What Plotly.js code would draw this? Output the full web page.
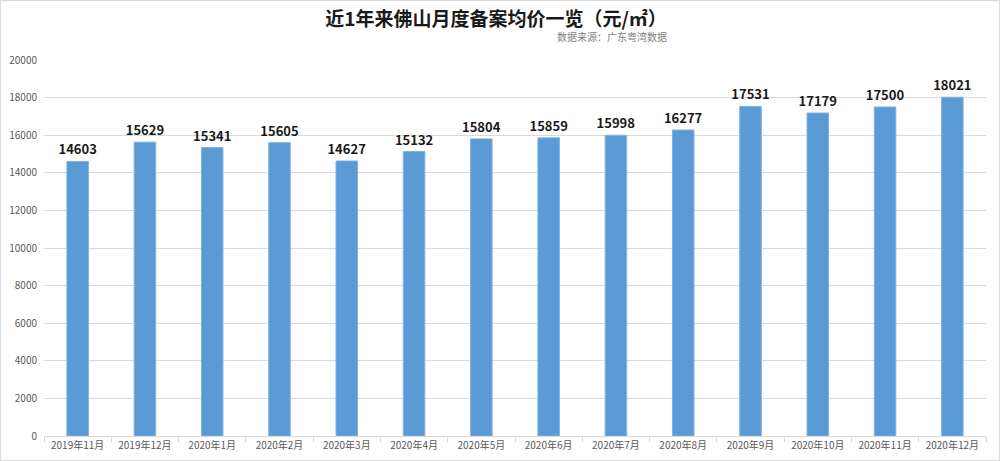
<!DOCTYPE html>
<html><head><meta charset="utf-8">
<script src="https://cdn.plot.ly/plotly-3.0.1.min.js"></script>
<style>
html,body{margin:0;padding:0;background:#fff;}
#wrap{width:1000px;height:461px;box-sizing:border-box;border:1px solid #d9d9d9;}
#chart{width:998px;height:459px;}
</style></head>
<body><div id="wrap"><div id="chart"></div></div>
<script>
const months = ["2019年11月","2019年12月","2020年1月","2020年2月","2020年3月","2020年4月","2020年5月","2020年6月","2020年7月","2020年8月","2020年9月","2020年10月","2020年11月","2020年12月"];
const prices = [14603,15629,15341,15605,14627,15132,15804,15859,15998,16277,17531,17179,17500,18021];
const yTicks = [0,2000,4000,6000,8000,10000,12000,14000,16000,18000,20000];

const trace = {
  type: "bar",
  x: months,
  y: prices,
  marker: {color: "#5B9BD5", line: {color: "#7FB2E0", width: 1}},
  text: prices.map(String),
  textposition: "outside",
  constraintext: "none",
  cliponaxis: false,
  textfont: {family: "Noto Sans CJK SC, sans-serif", size: 13, color: "#1a1a1a", weight: "bold"},
  hoverinfo: "x+y"
};

const layout = {
  width: 998, height: 459,
  margin: {l: 43, r: 13, t: 59, b: 24},
  paper_bgcolor: "#fff", plot_bgcolor: "#fff",
  bargap: 0.68,
  showlegend: false,
  font: {family: "Noto Sans CJK SC, sans-serif", color: "#595959", size: 10},
  title: {
    text: "近1年来佛山月度备案均价一览（元/㎡）",
    font: {family: "Noto Sans CJK SC, serif", size: 19, color: "#1a1a1a", weight: "bold"},
    x: 0.496, xanchor: "center", y: 0.96, yanchor: "middle"
  },
  annotations: [{
    text: "数据来源：广东粤湾数据",
    xref: "paper", yref: "paper", x: 0.663, y: 1, xanchor: "right", yanchor: "bottom",
    yshift: 14, showarrow: false,
    font: {family: "Noto Sans CJK SC, sans-serif", size: 10, color: "#7f7f7f"}
  }],
  xaxis: {
    type: "category",
    tickson: "boundaries",
    ticks: "outside", ticklen: 5, tickcolor: "#d9d9d9",
    showline: true, linecolor: "#d9d9d9", linewidth: 1,
    showgrid: false, zeroline: false,
    tickfont: {size: 10, color: "#595959"}
  },
  yaxis: {
    range: [0, 20000],
    tickvals: yTicks,
    ticktext: yTicks.map(String),
    showgrid: true, gridcolor: "#d9d9d9", gridwidth: 1,
    zeroline: false, showline: false, ticks: "",
    ticklabelstandoff: 6,
    tickfont: {size: 10, color: "#595959"}
  }
};

Plotly.newPlot("chart", [trace], layout, {displayModeBar: false, staticPlot: true});
</script></body></html>
